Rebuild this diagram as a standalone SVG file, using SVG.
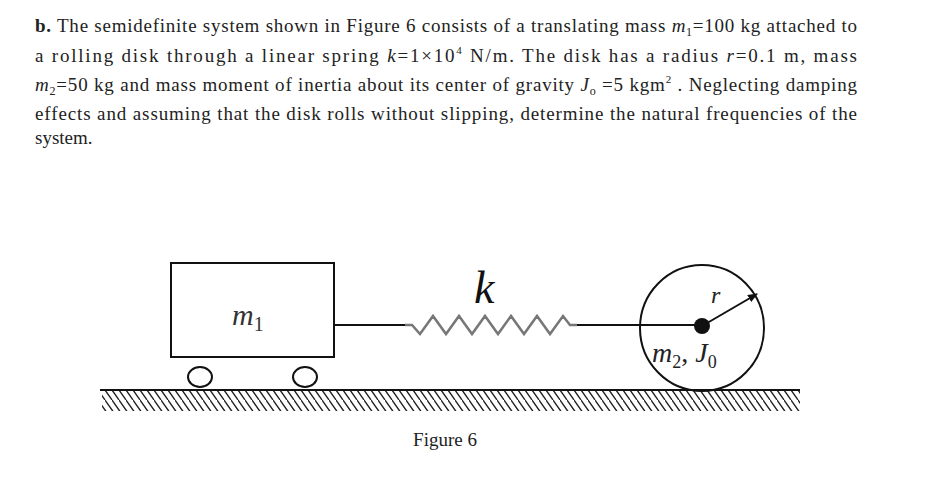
<svg xmlns="http://www.w3.org/2000/svg" width="937" height="488" viewBox="0 0 937 488">
<defs>
<style>
.t{font-family:"Liberation Serif",serif;font-size:19px;fill:#222}
.i{font-style:italic}
.l{fill:none;stroke:#111;stroke-width:2}
</style>
<marker id="ah" markerWidth="10" markerHeight="8" refX="9" refY="4" orient="auto" markerUnits="userSpaceOnUse"><path d="M0,0L10,4L0,8z" fill="#111"/></marker>
<pattern id="hatch" width="7" height="20" patternUnits="userSpaceOnUse"><path d="M-7,0L7,20M0,0L14,20M-14,0L0,20" stroke="#222" stroke-width="1.3"/></pattern>
</defs>
<rect width="937" height="488" fill="#fff"/>
<g id="text">
<text class="t" x="35" y="32" textLength="822" lengthAdjust="spacing"><tspan font-weight="bold">b.</tspan> The semidefinite system shown in Figure 6 consists of a translating mass <tspan class="i">m</tspan><tspan font-size="12" dy="4">1</tspan><tspan dy="-4">=100 kg attached to</tspan></text>
<text class="t" x="35" y="62" textLength="822" lengthAdjust="spacing">a rolling disk through a linear spring <tspan class="i">k</tspan>=1×10<tspan font-size="11" dy="-8">4</tspan><tspan dy="8"> N/m. The disk has a radius </tspan><tspan class="i">r</tspan>=0.1 m, mass</text>
<text class="t" x="35" y="91" textLength="822" lengthAdjust="spacing"><tspan class="i">m</tspan><tspan font-size="12" dy="4">2</tspan><tspan dy="-4">=50 kg and mass moment of inertia about its center of gravity </tspan><tspan class="i">J</tspan><tspan font-size="12" dy="4">o</tspan><tspan dy="-4"> =5 kgm</tspan><tspan font-size="11" dy="-8">2</tspan><tspan dy="8"> . Neglecting damping</tspan></text>
<text class="t" x="35" y="120" textLength="822" lengthAdjust="spacing">effects and assuming that the disk rolls without slipping, determine the natural frequencies of the</text>
<text class="t" x="35" y="144">system.</text>
</g>
<g id="ground">
<rect x="102" y="391" width="698" height="20" fill="url(#hatch)"/>
<line class="l" x1="100" y1="390" x2="800" y2="390"/>
</g>
<g id="mass1">
<rect class="l" x="171" y="263" width="163" height="94"/>
<ellipse class="l" cx="200" cy="377" rx="12" ry="10"/>
<ellipse class="l" cx="305" cy="377" rx="12" ry="10"/>
<text x="232" y="325" font-family="Liberation Serif,serif" font-size="30" font-style="italic" fill="#333">m<tspan font-style="normal" font-size="20" dy="6">1</tspan></text>
</g>
<g id="connectors">
<line class="l" x1="334" y1="325" x2="405" y2="325"/>
<polyline fill="none" stroke="#777" stroke-width="2.5" points="405,325 412,325 420,334 433,316 446,334 459,316 472,334 485,316 498,334 511,316 524,334 537,316 550,334 563,316 570,325 577,325"/>
<line class="l" x1="577" y1="325" x2="702" y2="325"/>
<text x="474" y="303" font-family="Liberation Serif,serif" font-size="46" font-style="italic" fill="#111">k</text>
</g>
<g id="disk">
<ellipse class="l" cx="702" cy="328" rx="62" ry="63" stroke-width="1.5"/>
<circle cx="702" cy="326" r="8" fill="#111"/>
<line class="l" x1="702" y1="326" x2="757" y2="294" marker-end="url(#ah)"/>
<text x="711" y="303" font-family="Liberation Serif,serif" font-size="24" font-style="italic" fill="#222">r</text>
<text x="652" y="362" font-family="Liberation Serif,serif" font-size="28" font-style="italic" fill="#222">m<tspan font-style="normal" font-size="18" dy="6">2</tspan><tspan dy="-6" font-style="normal">, </tspan>J<tspan font-style="normal" font-size="18" dy="6">0</tspan></text>
</g>
<text class="t" x="445" y="446" text-anchor="middle">Figure 6</text>
</svg>
